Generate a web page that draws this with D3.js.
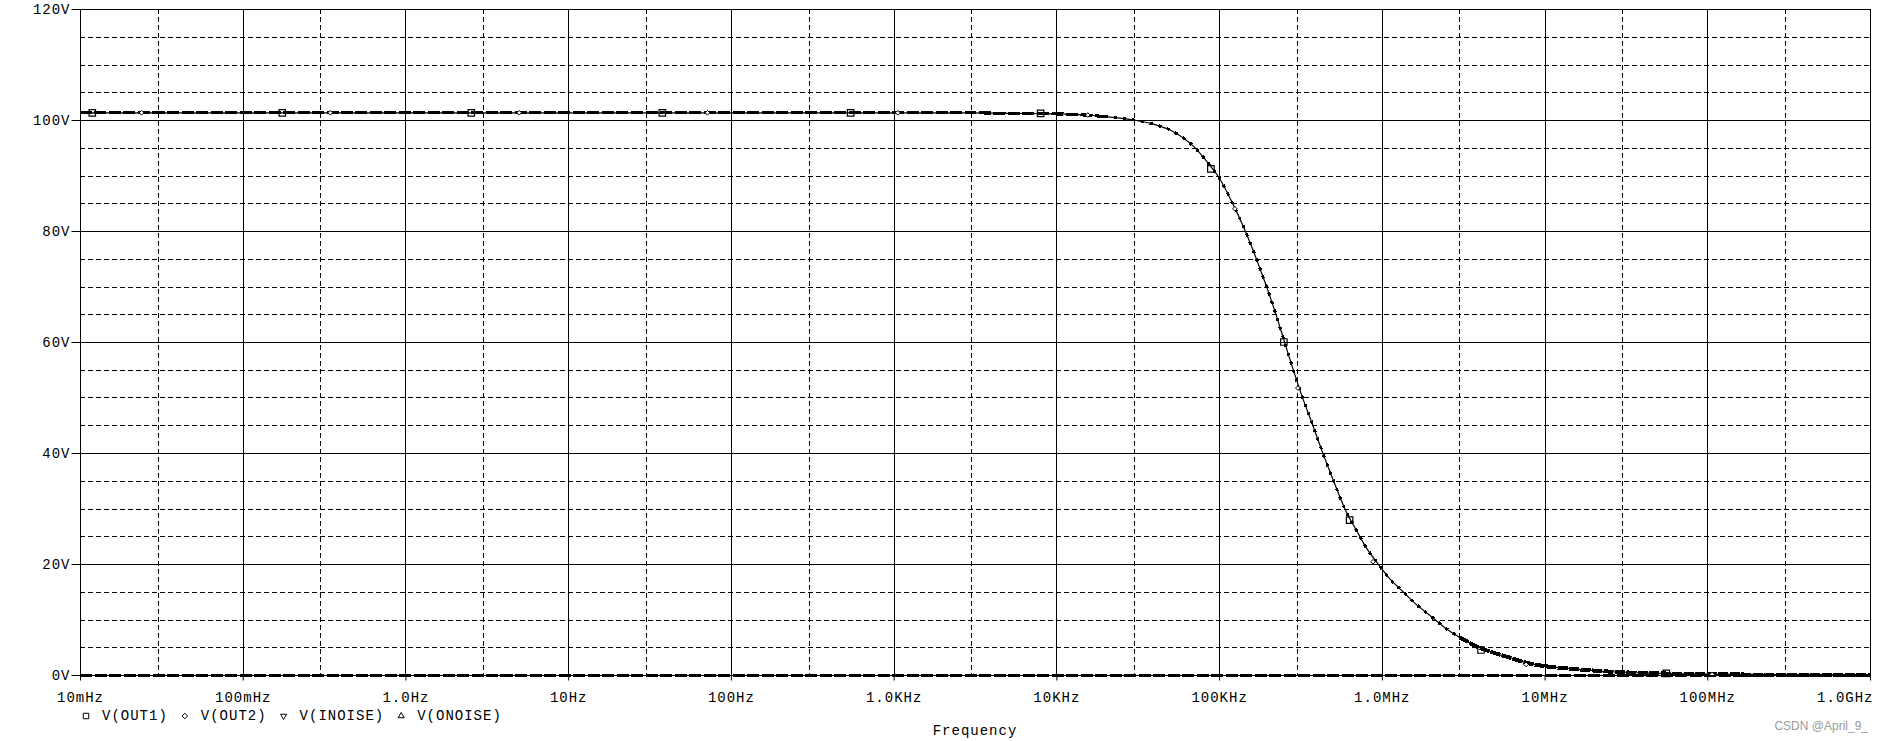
<!DOCTYPE html>
<html>
<head>
<meta charset="utf-8">
<script src="https://cdn.jsdelivr.net/npm/d3@7/dist/d3.min.js"></script>
<style>
    body { margin: 0; background: #fff; }
    svg text { font-family: "Liberation Mono", "DejaVu Sans Mono", monospace; font-size: 14px; letter-spacing: 1px; fill: #000; }
</style>
</head>
<body>
<svg id="chart"></svg>
<script>
// sweep frequencies (Hz) and V(OUT1)
const freqs = [0.01, 0.1, 1, 10, 100, 1000, 3000, 5000, 1e4, 1.5e4, 2e4, 3e4, 4e4, 5e4, 6e4, 7e4, 8e4, 9e4,
    1e5, 1.2e5, 1.4e5, 1.6e5, 1.8e5, 2e5, 2.2e5, 2.5e5, 2.8e5, 3.2e5, 3.7e5, 4.3e5, 5e5, 6e5, 7e5, 8e5, 9.5e5,
    1.1e6, 1.35e6, 1.6e6, 2e6, 2.5e6, 3e6, 4e6, 5e6, 6e6, 8e6, 1e7, 1.5e7, 2e7, 3e7, 5e7, 1e8, 3e8, 1e9];
const out1 = [101.3, 101.3, 101.3, 101.3, 101.3, 101.3, 101.3, 101.2, 101.1, 100.9, 100.6, 100.0, 99.2, 98.2, 96.8, 95.2, 93.3, 91.4,
    89.6, 85.2, 81.0, 76.9, 72.9, 69.2, 65.6, 60.4, 55.8, 50.6, 45.6, 40.3, 35.3, 29.6, 26.0, 23.0, 20.0,
    17.6, 15.0, 12.9, 10.6, 8.3, 6.8, 4.9, 3.9, 3.2, 2.1, 1.6, 1.1, 0.8, 0.5, 0.3, 0.15, 0.05, 0];

// noise traces sit on 0V over the whole sweep
const noiseFreqs = [0.01, 1e9];
const inoise = [0, 0];
const onoise = [0, 0];

// trace markers (frequency, value)
const out1MarkFreqs = [0.0119, 0.175, 2.54, 37.9, 544, 8000, 8.9e4, 2.5e5, 6.34e5, 4.07e6, 5.6e7];
const out1MarkVals = [101.3, 101.3, 101.3, 101.3, 101.3, 101.2, 91.2, 60.0, 27.9, 4.5, 0.3];
const out2MarkFreqs = [0.0239, 0.345, 5.0, 71.8, 1060, 15600, 1.25e5, 3.05e5, 8.83e5, 7.7e6, 1.07e8];
const out2MarkVals = [101.3, 101.3, 101.3, 101.3, 101.3, 100.9, 84.0, 51.7, 20.4, 1.9, 0.1];

const xTickVals = [0.01, 0.1, 1, 10, 100, 1e3, 1e4, 1e5, 1e6, 1e7, 1e8, 1e9];
const xTickLabels = ['10mHz', '100mHz', '1.0Hz', '10Hz', '100Hz', '1.0KHz', '10KHz', '100KHz', '1.0MHz', '10MHz', '100MHz', '1.0GHz'];
const yTickVals = [0, 20, 40, 60, 80, 100, 120];
const yTickLabels = ['0V', '20V', '40V', '60V', '80V', '100V', '120V'];

const legendNames = ['V(OUT1)', 'V(OUT2)', 'V(INOISE)', 'V(ONOISE)'];

const width = 1883;
const height = 741;
const margin = { top: 9, right: 13, bottom: 66, left: 80 };

const svg = d3.select('#chart')
    .attr('width', width)
    .attr('height', height)
    .attr('viewBox', [0, 0, width, height]);

const xScale = d3.scaleLog()
    .domain([0.01, 1e9])
    .range([margin.left, width - margin.right]);

const yScale = d3.scaleLinear()
    .domain([0, 120])
    .range([height - margin.bottom, margin.top]);

const x0 = xScale.range()[0], x1 = xScale.range()[1];
const y0 = yScale.range()[0], y1 = yScale.range()[1];

//minor grid
const minorX = xTickVals.slice(0, -1).map(d => d * 3);
const minorY = d3.range(5, 120, 5).filter(v => v % 20 !== 0);

const grid = svg.append('g').attr('shape-rendering', 'crispEdges');
grid.selectAll('.mx').data(minorX).enter().append('line')
    .attr('x1', d => Math.round(xScale(d)) + 0.5).attr('x2', d => Math.round(xScale(d)) + 0.5)
    .attr('y1', y1).attr('y2', y0)
    .attr('stroke', '#000').attr('stroke-dasharray', '5,3');
grid.selectAll('.my').data(minorY).enter().append('line')
    .attr('x1', x0).attr('x2', x1)
    .attr('y1', d => Math.round(yScale(d)) + 0.5).attr('y2', d => Math.round(yScale(d)) + 0.5)
    .attr('stroke', '#000').attr('stroke-dasharray', '5,3');

//major grid
grid.selectAll('.Mx').data(xTickVals).enter().append('line')
    .attr('x1', d => Math.round(xScale(d)) + 0.5).attr('x2', d => Math.round(xScale(d)) + 0.5)
    .attr('y1', y1).attr('y2', y0)
    .attr('stroke', '#000');
grid.selectAll('.My').data(yTickVals).enter().append('line')
    .attr('x1', x0).attr('x2', x1)
    .attr('y1', d => Math.round(yScale(d)) + 0.5).attr('y2', d => Math.round(yScale(d)) + 0.5)
    .attr('stroke', '#000');

//y axis
const yAxis = d3.axisLeft(yScale)
    .tickValues(yTickVals)
    .tickFormat((d, i) => yTickLabels[i])
    .tickSize(9)
    .tickPadding(1);
const yAxisG = svg.append('g')
    .attr('transform', `translate(${x0 + 0.5}, 0)`)
    .call(yAxis);
yAxisG.select('.domain').remove();
yAxisG.selectAll('line').attr('stroke', '#000');
yAxisG.selectAll('text').attr('font-size', null).attr('font-family', null);

//x axis
const xAxis = d3.axisBottom(xScale)
    .tickValues(xTickVals)
    .tickFormat((d, i) => xTickLabels[i])
    .tickSize(5)
    .tickPadding(12);
const xAxisG = svg.append('g')
    .attr('transform', `translate(0, ${y0 + 0.5})`)
    .call(xAxis);
xAxisG.select('.domain').remove();
xAxisG.selectAll('line').attr('stroke', '#000');
xAxisG.selectAll('text').attr('font-size', null).attr('font-family', null)
    .attr('text-anchor', (d, i) => i === xTickVals.length - 1 ? 'end' : 'middle')
    .attr('dx', (d, i) => i === xTickVals.length - 1 ? 3 : 0);

svg.append('text')
    .attr('x', (x0 + x1) / 2)
    .attr('y', 735)
    .attr('text-anchor', 'middle')
    .text('Frequency');

//traces
const pts = freqs.map((f, i) => ({ f: f, v: out1[i] }));
const line = d3.line()
    .x(d => xScale(d.f))
    .y(d => yScale(d.v))
    .curve(d3.curveMonotoneX);

const plot = svg.append('g');

// noise traces on 0V
[inoise, onoise].forEach(vals => {
    plot.append('path')
        .datum(noiseFreqs.map((f, i) => ({ f: f, v: vals[i] })))
        .attr('fill', 'none')
        .attr('stroke', '#000')
        .attr('stroke-width', 3)
        .attr('stroke-dasharray', '12,2.5')
        .attr('shape-rendering', 'crispEdges')
        .attr('d', line);
});

// thin trace line
plot.append('path').datum(pts)
    .attr('fill', 'none')
    .attr('stroke', '#000')
    .attr('stroke-width', 1.2)
    .attr('d', line);

// sample dots: dense on the flat part, spaced on the roll-off, dense again at the tail
const segFlat = pts.filter(d => d.f <= 2e4);
const segRoll = pts.filter(d => d.f >= 2e4 && d.f <= 3e6);
const segTail = pts.filter(d => d.f >= 3e6);
plot.append('path').datum(segFlat)
    .attr('fill', 'none').attr('stroke', '#000')
    .attr('stroke-width', 3.2).attr('stroke-dasharray', '12,2.5')
    .attr('shape-rendering', 'crispEdges')
    .attr('d', line);
plot.append('path').datum(segRoll)
    .attr('fill', 'none').attr('stroke', '#000')
    .attr('stroke-width', 3).attr('stroke-dasharray', '3,6')
    .attr('shape-rendering', 'crispEdges')
    .attr('d', line);
plot.append('path').datum(segTail)
    .attr('fill', 'none').attr('stroke', '#000')
    .attr('stroke-width', 4).attr('stroke-dasharray', '10,1.5')
    .attr('shape-rendering', 'crispEdges')
    .attr('d', line);

// markers
const squareSym = d3.symbol().type(d3.symbolSquare).size(42);
const diamondSym = d3.symbol().type(d3.symbolDiamond2).size(14);

plot.selectAll('.m1').data(out1MarkFreqs).enter().append('path')
    .attr('d', squareSym)
    .attr('transform', (d, i) => `translate(${xScale(d)}, ${yScale(out1MarkVals[i])})`)
    .attr('fill', 'none').attr('stroke', '#000').attr('stroke-width', 1.2);
plot.selectAll('.m2').data(out2MarkFreqs).enter().append('path')
    .attr('d', diamondSym)
    .attr('transform', (d, i) => `translate(${xScale(d)}, ${yScale(out2MarkVals[i])})`)
    .attr('fill', '#fff').attr('stroke', '#000').attr('stroke-width', 1);

//frame
svg.append('rect')
    .attr('x', x0 + 0.5).attr('y', y1 + 0.5)
    .attr('width', x1 - x0).attr('height', y0 - y1)
    .attr('fill', 'none').attr('stroke', '#000')
    .attr('shape-rendering', 'crispEdges');

//legend
const legendSyms = [
    d3.symbol().type(d3.symbolSquare).size(30),
    d3.symbol().type(d3.symbolDiamond2).size(20),
    d3.symbol().type(d3.symbolTriangle).size(16),
    d3.symbol().type(d3.symbolTriangle).size(16)
];
const pitch = 9.4;
let lx = 86;
const legend = svg.append('g');
legendNames.forEach((name, i) => {
    legend.append('path')
        .attr('d', legendSyms[i])
        .attr('transform', `translate(${lx}, 716)` + (i === 2 ? ' rotate(180)' : ''))
        .attr('fill', 'none').attr('stroke', '#000').attr('stroke-width', 1);
    legend.append('text')
        .attr('x', lx + 16)
        .attr('y', 720)
        .text(name);
    lx += 16 + name.length * pitch + 17;
});

svg.append('text')
    .attr('x', 1868)
    .attr('y', 730)
    .attr('text-anchor', 'end')
    .style('font-family', '"Liberation Sans", Arial, sans-serif')
    .style('font-size', '12px')
    .style('letter-spacing', '0px')
    .style('fill', '#9a9a9a')
    .text('CSDN @April_9_');
</script>
</body>
</html>
